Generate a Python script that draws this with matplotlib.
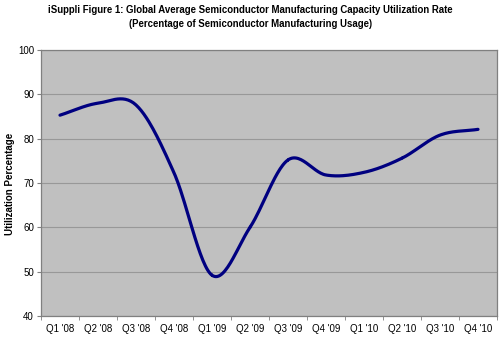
import matplotlib
matplotlib.use('Agg')
import matplotlib.pyplot as plt
import numpy as np

plt.rcParams['font.family'] = ['Liberation Sans', 'DejaVu Sans']

# 분기별 가동률 데이터
quarters = ["Q1 '08", "Q2 '08", "Q3 '08", "Q4 '08", "Q1 '09", "Q2 '09",
            "Q3 '09", "Q4 '09", "Q1 '10", "Q2 '10", "Q3 '10", "Q4 '10"]
utilization = [85.3, 88.0, 87.6, 72.3, 49.2, 60.0,
               75.2, 71.8, 72.4, 75.6, 80.8, 82.1]


def catmull_rom(x, y, n=30):
    # Excel 스타일 부드러운 선
    x = np.asarray(x, float)
    y = np.asarray(y, float)
    px = np.concatenate([[2 * x[0] - x[1]], x, [2 * x[-1] - x[-2]]])
    py = np.concatenate([[2 * y[0] - y[1]], y, [2 * y[-1] - y[-2]]])
    xs, ys = [], []
    t = np.linspace(0, 1, n)
    for i in range(1, len(px) - 2):
        for p, out in ((px, xs), (py, ys)):
            p0, p1, p2, p3 = p[i - 1], p[i], p[i + 1], p[i + 2]
            out.extend(0.5 * ((2 * p1) + (-p0 + p2) * t
                              + (2 * p0 - 5 * p1 + 4 * p2 - p3) * t ** 2
                              + (-p0 + 3 * p1 - 3 * p2 + p3) * t ** 3))
    return np.array(xs), np.array(ys)


x = np.arange(len(quarters))
sx, sy = catmull_rom(x, utilization)

fig = plt.figure(figsize=(5.01, 3.38), dpi=100)
ax = fig.add_axes([41 / 501, 1 - 316 / 338, 456 / 501, 266 / 338])
ax.set_facecolor('#c0c0c0')

ax.plot(sx, sy, color='#000080', linewidth=2.3, solid_capstyle='round')

ax.set_xlim(-0.5, len(quarters) - 0.5)
ax.set_ylim(40, 100)
ax.set_yticks(range(40, 101, 10))
ax.set_xticks(x)
ax.set_xticklabels(quarters)
ax.set_xticks(np.arange(-0.5, len(quarters), 1), minor=True)
ax.tick_params(axis='x', which='major', length=0, labelsize=7, pad=6)
ax.tick_params(axis='x', which='minor', length=3, color='#808080')
ax.tick_params(axis='y', length=3, color='#808080', labelsize=7, pad=2)
ax.grid(axis='y', color='#989898', linewidth=0.8)
ax.set_axisbelow(True)
for s in ax.spines.values():
    s.set_color('#808080')
    s.set_linewidth(0.9)

fig.text(10 / 501, 1 - 184 / 338, 'Utilization Percentage', rotation=90,
         ha='center', va='center', fontsize=7, fontweight='bold')

fig.text(0.5, 1 - 10 / 338, 'iSuppli Figure 1: Global Average Semiconductor Manufacturing Capacity Utilization Rate',
         ha='center', va='center', fontsize=6.9, fontweight='bold')
fig.text(0.5, 1 - 24 / 338, '(Percentage of Semiconductor Manufacturing Usage)',
         ha='center', va='center', fontsize=6.9, fontweight='bold')

fig.savefig('out.png', dpi=100)
